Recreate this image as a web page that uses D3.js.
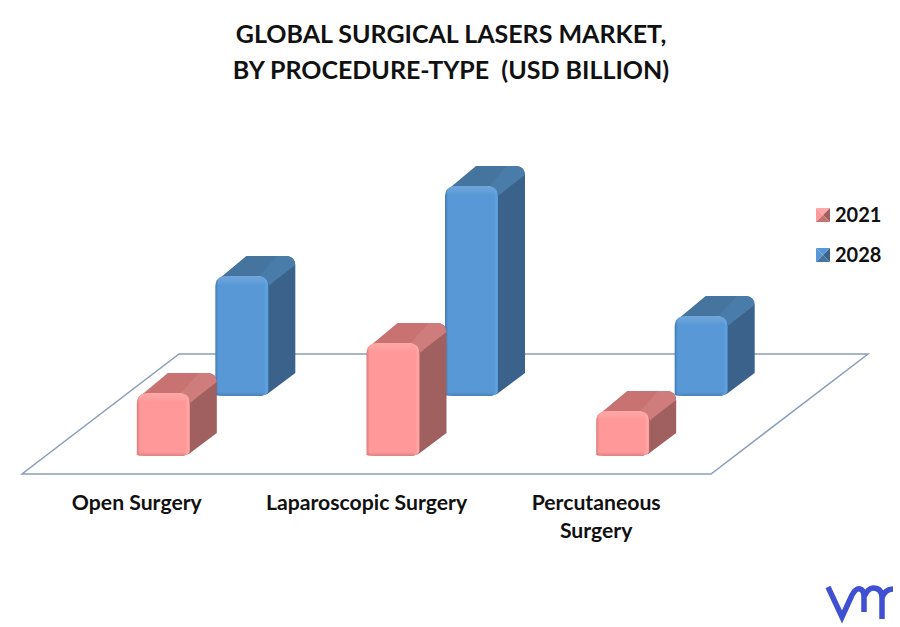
<!DOCTYPE html>
<html><head><meta charset="utf-8">
<script src="https://cdn.jsdelivr.net/npm/d3@7"></script>
<style>html,body{margin:0;padding:0;background:#fff}svg{display:block}text{font-family:Lato,"Open Sans",sans-serif;font-weight:700;fill:#111}</style>
</head><body><div id="c"></div>
<script>
const categories = ["Open Surgery","Laparoscopic Surgery","Percutaneous Surgery"];
const categoryLines = [["Open Surgery"],["Laparoscopic Surgery"],["Percutaneous","Surgery"]];
const series = ["2021","2028"];
const values2021 = [0.63,1.13,0.45];
const values2028 = [1.20,2.10,0.80];
const titleLines = ["GLOBAL SURGICAL LASERS MARKET,","BY PROCEDURE-TYPE  (USD BILLION)"];
const palette = {
 "2021":{front:"#ff9898",edge:"#dc7c7c",hi:"#ffa8a8",top:"#c87272",topHi:"#ce7c7c",side:"#a06060"},
 "2028":{front:"#5898d6",edge:"#3f7cb8",hi:"#5ea2e2",top:"#44749f",topHi:"#4a7ca8",side:"#3a628a"}
};
const W=900,H=627;
const svg=d3.select("#c").append("svg").attr("width",W).attr("height",H);
const defs=svg.append("defs");
defs.append("filter").attr("id","soft").attr("x","-5%").attr("y","-5%").attr("width","110%").attr("height","110%")
 .append("feGaussianBlur").attr("stdDeviation",0.55);
const x=d3.scaleBand().domain(categories).range([22,711]);
const y=d3.scaleLinear().domain([0,2.1]).range([0,210]);
const depthX=d3.scalePoint().domain(series).range([0,78.5]);
const depthY=d3.scalePoint().domain(series).range([456,396]);
const barW=53,dx=27,dy=20;
series.forEach(s=>{
 const p=palette[s];
 const g=defs.append("linearGradient").attr("id","f"+s);
 [[0,p.edge],[.06,p.front],[.92,p.front],[.97,p.hi],[1,p.front]].forEach(d=>g.append("stop").attr("offset",d[0]).attr("stop-color",d[1]));
});
const sh=defs.append("linearGradient").attr("id","sheen").attr("x1",0).attr("x2",0).attr("y1",0).attr("y2",1);
[[0,.14],[.6,.08],[1,0]].forEach(d=>sh.append("stop").attr("offset",d[0]).attr("stop-color","#fff").attr("stop-opacity",d[1]));
const bl=defs.append("linearGradient").attr("id","bottom").attr("x1",0).attr("x2",0).attr("y1",0).attr("y2",1);
[[0,0],[1,.14]].forEach(d=>bl.append("stop").attr("offset",d[0]).attr("stop-color","#000").attr("stop-opacity",d[1]));

// title
svg.append("g").selectAll("text").data(titleLines).join("text")
 .attr("x",451).attr("y",(d,i)=>43+i*36).attr("text-anchor","middle")
 .attr("font-size",25).style("white-space","pre").text(d=>d);

// floor
const bx0=x.range()[0],bx1=x.range()[1];
svg.append("path").attr("fill","none").attr("stroke","#8a9fba").attr("stroke-width",1.5)
 .attr("d",d3.line()([[bx0,474],[bx1,474],[bx1+157,354],[bx0+157,354]])+"Z");

function bar(g,cat,s,val){
 const p=palette[s];
 const x0=x(cat)+x.bandwidth()/2+depthX(s), base=depthY(s), h=y(val), top=base-h, r=11, x1=x0+barW;
 g.attr("filter","url(#soft)");
 // side
 g.append("path").attr("fill",p.side)
  .attr("d",`M${x1-8},${top+2}L${x1+dx-9},${top-dy}Q${x1+dx},${top-dy} ${x1+dx},${top-dy+10}L${x1+dx},${base-dy-3}L${x1-1},${base-2}Q${x1-6},${base} ${x1-12},${base}Z`);
 // top
 g.append("path").attr("fill",p.top)
  .attr("d",`M${x0+1},${top+5}L${x0+31},${top-dy}Q${x0+33},${top-dy} ${x0+36},${top-dy}L${x1+dx-9},${top-dy}Q${x1+dx-4},${top-dy} ${x1+dx-3},${top-dy+6}L${x1+1},${top+10}Q${x1-4},${top} ${x1-10},${top}Z`);
 g.append("path").attr("fill",p.topHi)
  .attr("d",`M${x1-9},${top}L${x1+dx-18},${top-dy}L${x1+dx-8},${top-dy}Q${x1+dx-1},${top-dy+1} ${x1+dx},${top-dy+9}L${x1+1},${top+9}Q${x1-2},${top+2} ${x1-9},${top}Z`);
 // front
 const front=`M${x0},${base-1}L${x0},${top+r}Q${x0},${top} ${x0+r},${top}L${x1-r},${top}Q${x1},${top} ${x1},${top+r}L${x1},${base-5}Q${x1},${base} ${x1-12},${base}L${x0+8},${base}Q${x0+3},${base} ${x0},${base-1}Z`;
 g.append("path").attr("fill",`url(#f${s})`).attr("d",front);
 g.append("path").attr("fill","url(#sheen)").attr("d",`M${x0+1},${top+9}Q${x0+1},${top} ${x0+r},${top}L${x1-r},${top}Q${x1-1},${top} ${x1-1},${top+9}Z`);
 g.append("rect").attr("x",x0+1).attr("width",barW-6).attr("y",base-4).attr("height",4).attr("fill","url(#bottom)");
}
const marks=svg.append("g");
categories.forEach((c,i)=>bar(marks.append("g"),c,"2028",values2028[i]));
categories.forEach((c,i)=>bar(marks.append("g"),c,"2021",values2021[i]));

// category labels
const lab=svg.append("g").attr("font-size",21.2);
categories.forEach((c,i)=>{
 categoryLines[i].forEach((t,j)=>lab.append("text").attr("x",x(c)+x.bandwidth()/2).attr("y",510+j*28).attr("text-anchor","middle").text(t));
});

// legend
const leg=d3.scalePoint().domain(series).range([215,255]);
series.forEach(s=>{
 const p=palette[s], a=816,b=leg(s)-7,w=14,m=[a+w/2,b+w/2];
 const g=svg.append("g");
 [[[a,b],[a+w,b],s==="2021"?p.hi:p.front],[[a,b+w],[a,b],p.front],[[a+w,b],[a+w,b+w],p.side],[[a+w,b+w],[a,b+w],p.top]].forEach(d=>
  g.append("path").attr("fill",d[2]).attr("d",d3.line()([d[0],d[1],m])+"Z"));
 svg.append("text").attr("x",835).attr("y",leg(s)+7).attr("font-size",20).text(s);
});

// logo
svg.append("path").attr("fill","none").attr("stroke","#3f51d0").attr("stroke-width",5.5)
 .attr("d","M828,587L842,617L852,595Q856,588 860,589Q864,590 864,597L864,612M864,597Q868,588 873,588Q882,588 882,598L882,619M882,598Q885,589 893,589");
</script></body></html>
